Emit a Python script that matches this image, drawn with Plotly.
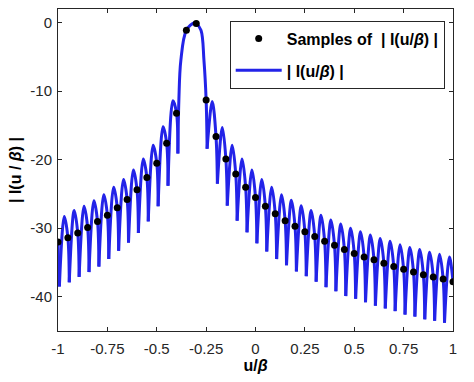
import plotly.graph_objects as go

# ---- data ----
# samples of |I(u/beta)| (dB) on a 0.05 grid
sample_u = [-1.00, -0.95, -0.90, -0.85, -0.80, -0.75, -0.70, -0.65, -0.60, -0.55,
            -0.50, -0.45, -0.40, -0.35, -0.30, -0.25, -0.20, -0.15, -0.10, -0.05,
            0.00, 0.05, 0.10, 0.15, 0.20, 0.25, 0.30, 0.35, 0.40, 0.45,
            0.50, 0.55, 0.60, 0.65, 0.70, 0.75, 0.80, 0.85, 0.90, 0.95, 1.00]
sample_db = [-32.0, -31.4, -30.7, -29.9, -29.0, -28.1, -27.0, -25.8, -24.4, -22.6,
             -20.5, -17.6, -13.2, -1.1, -0.1, -11.3, -16.6, -19.9, -22.1, -24.0,
             -25.5, -26.8, -27.9, -28.9, -29.7, -30.5, -31.2, -31.9, -32.5, -33.1,
             -33.7, -34.2, -34.6, -35.1, -35.6, -36.0, -36.4, -36.8, -37.1, -37.4, -37.8]

# nulls of the continuous curve
null_u = [-0.993, -0.943, -0.893, -0.843, -0.793, -0.743, -0.693, -0.643, -0.593,
          -0.543, -0.493, -0.443, -0.393,
          -0.245, -0.193, -0.143, -0.093, -0.043, 0.007, 0.057, 0.107, 0.157,
          0.207, 0.257, 0.307, 0.357, 0.407, 0.457, 0.507, 0.557, 0.607, 0.657,
          0.707, 0.757, 0.807, 0.857, 0.907, 0.957]
null_db = [-38.5, -37.9, -37.1, -36.4, -35.6, -34.5, -33.3, -32.1, -30.7,
           -29.0, -26.8, -23.8, -19.1,
           -18.4, -23.5, -26.7, -28.9, -30.6, -32.2, -33.4, -34.5, -35.4,
           -36.3, -37.0, -37.8, -38.6, -39.2, -39.9, -40.3, -40.8, -41.3, -41.7,
           -42.1, -42.6, -42.9, -43.3, -43.5, -43.8]

# side-lobe maxima
peak_u = [-0.968, -0.918, -0.868, -0.818, -0.768, -0.718, -0.668, -0.618, -0.568,
          -0.518, -0.468, -0.418,
          -0.219, -0.168, -0.118, -0.068, -0.018, 0.032, 0.082, 0.132, 0.182,
          0.232, 0.282, 0.332, 0.382, 0.432, 0.482, 0.532, 0.582, 0.632, 0.682,
          0.732, 0.782, 0.832, 0.882, 0.932, 0.982]
peak_db = [-28.3, -27.4, -26.8, -26.0, -25.1, -24.0, -22.9, -21.5, -19.9,
           -17.9, -15.2, -11.4,
           -11.5, -15.3, -17.9, -19.9, -21.5, -22.9, -24.0, -25.1, -25.9,
           -26.7, -27.4, -28.1, -28.8, -29.4, -30.0, -30.5, -31.0, -31.5, -31.9,
           -32.4, -32.8, -33.1, -33.5, -33.8, -34.2]

# extra points read along the main lobe
main_u = [-0.388, -0.378, -0.310, -0.276, -0.261]
main_db = [-11.3, -5.5, 0.0, -1.1, -5.5]

# ---- assemble the continuous curve (segments split at the nulls) ----
pts = [(u, d, 0) for u, d in zip(sample_u, sample_db)]
pts += [(u, d, 0) for u, d in zip(peak_u, peak_db)]
pts += [(u, d, 0) for u, d in zip(main_u, main_db)]
pts += [(u, d, 1) for u, d in zip(null_u, null_db)]
pts.sort(key=lambda p: p[0])

line_x, line_y = [], []
for u, d, is_null in pts:
    line_x.append(u)
    line_y.append(d)
    if is_null:
        line_x.append(None)
        line_y.append(None)
        line_x.append(u)
        line_y.append(d)

x_ticks = [-1, -0.75, -0.5, -0.25, 0, 0.25, 0.5, 0.75, 1]
x_ticklabels = ["-1", "-0.75", "-0.5", "-0.25", "0", "0.25", "0.5", "0.75", "1"]
y_ticks = [-40, -30, -20, -10, 0]
y_ticklabels = ["-40", "-30", "-20", "-10", "0"]

FONT = "Liberation Sans, Arial, Helvetica, sans-serif"
AX = "#262626"

fig = go.Figure()
fig.add_trace(go.Scatter(
    x=line_x, y=line_y, mode="lines", line_shape="spline",
    line=dict(color="rgb(35,35,232)", width=3),
    connectgaps=False,
    name="<b>| I(u/<i>β</i>) |</b>", legendrank=2, legendgroup="b",
))
fig.add_trace(go.Scatter(
    x=sample_u, y=sample_db, mode="markers",
    marker=dict(color="black", size=7),
    name="<b>Samples of&nbsp; | I(u/<i>β</i>) |</b>", legendrank=1, legendgroup="a",
))

axis_common = dict(
    showline=True, linecolor=AX, linewidth=1, mirror="ticks",
    ticks="inside", ticklen=4, tickcolor=AX, tickwidth=1,
    showgrid=False, zeroline=False, automargin=False,
    tickfont=dict(family=FONT, size=15, color=AX),
)

fig.update_layout(
    width=474, height=382, autosize=False,
    margin=dict(l=58, r=21, t=9, b=51),
    paper_bgcolor="white", plot_bgcolor="white",
    font=dict(family=FONT, color="black"),
    xaxis=dict(range=[-1, 1], tickvals=x_ticks, ticktext=x_ticklabels,
               title=dict(text="<b>u/<i>β</i></b>", font=dict(size=16, color="black"), standoff=2),
               ticklabelstandoff=4, **axis_common),
    yaxis=dict(range=[-45, 2], tickvals=y_ticks, ticktext=y_ticklabels,
               title=dict(text="<b>| I(u / <i>β</i>) |</b>", font=dict(size=16, color="black"), standoff=4),
               ticklabelstandoff=2, **axis_common),
    legend=dict(x=0.979, y=0.964, xanchor="right", yanchor="top",
                bordercolor=AX, borderwidth=1, bgcolor="white",
                font=dict(family=FONT, size=16, color="black"),
                tracegroupgap=8, itemwidth=46),
    showlegend=True,
)

fig.write_html("out.html", config={"displayModeBar": False})

# remove the browser's default page margin so the figure sits at the top-left corner
with open("out.html", "r", encoding="utf-8") as f:
    html = f.read()
html = html.replace("<body>", '<body style="margin:0;padding:0;">', 1)
html = html.replace("<head>", "<head><style>html,body{margin:0;padding:0;}</style>", 1)
with open("out.html", "w", encoding="utf-8") as f:
    f.write(html)
